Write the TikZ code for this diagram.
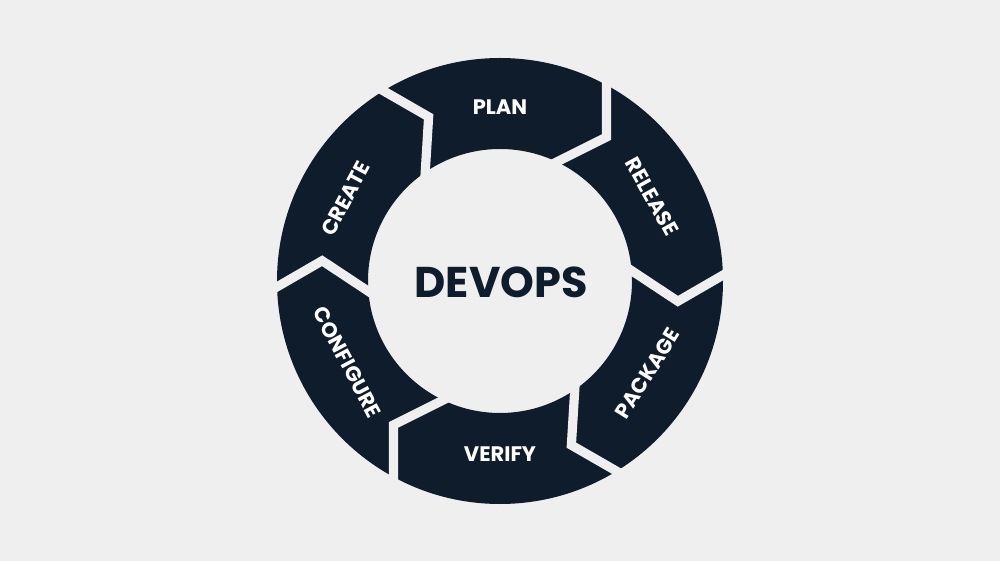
\documentclass[tikz,border=0pt]{standalone}
\usepackage{fontspec}
\setmainfont{Poppins}
\usetikzlibrary{calc}
\definecolor{navy}{HTML}{0E1C2C}
\definecolor{bgc}{HTML}{EFEFEF}
\begin{document}
\begin{tikzpicture}[x=0.5pt,y=0.5pt,
  seglabel/.style={text=white, inner sep=0pt, font=\fontsize{10.5}{12}\selectfont\bfseries},
  gapline/.style={draw=bgc, line width=4.6pt, line join=miter, miter limit=10},
  ringfill/.style={fill=navy, even odd rule}]
\useasboundingbox[fill=bgc] (-500,-280) rectangle (500,281);
% ring
\fill[ringfill] (0,0) circle[radius=223] (0,0) circle[radius=132];
% chevron gaps
\foreach \b in {123,63,3,-57,-117,-177}{
  \coordinate (o) at (\b-1.5:223);
  \coordinate (t) at (\b-9.5:179);
  \coordinate (i) at (\b+1.5:132);
  \draw[gapline] ($(t)!1.2!(o)$) -- (t) -- ($(t)!1.2!(i)$);
}
% labels
\node[seglabel] (plan) at (90:174) {PLAN};
\node[seglabel, rotate=-61] (release) at (29:174) {RELEASE};
\node[seglabel, rotate=58] (package) at (-32:174) {PACKAGE};
\node[seglabel] (verify) at (-90:173) {VERIFY};
\node[seglabel, rotate=-62] (configure) at (-152:173) {CONFIGURE};
\node[seglabel, rotate=62] (create) at (152:175) {CREATE};
% centre
\node[text=navy, inner sep=0pt, font=\fontsize{21.5}{24}\selectfont\bfseries] (devops) at (1,-1) {DEVOPS};
\end{tikzpicture}
\end{document}
